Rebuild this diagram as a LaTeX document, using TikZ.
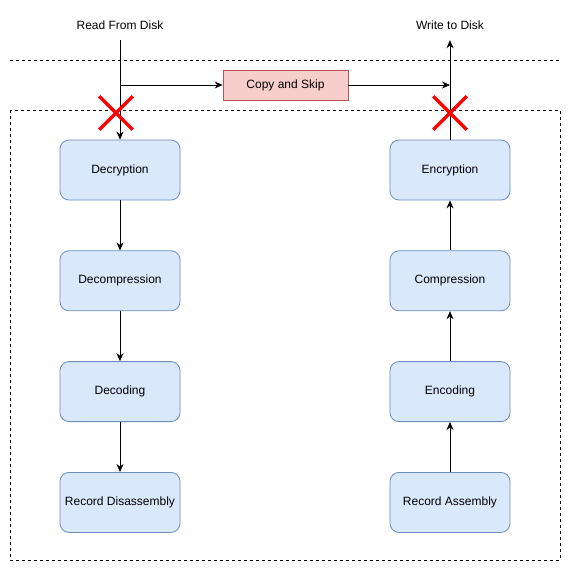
\documentclass[tikz,border=0pt]{standalone}
\usepackage{fontspec}
\setmainfont{Liberation Sans}
\usetikzlibrary{arrows.meta,positioning,shapes.misc}

\definecolor{stageFill}{HTML}{DAE8FC}
\definecolor{stageLine}{HTML}{6C8EBF}
\definecolor{skipFill}{HTML}{F8CECC}
\definecolor{skipLine}{HTML}{B85450}

\begin{document}
\begin{tikzpicture}[
  x=1pt, y=1pt,
  every node/.style={font=\fontsize{12}{14}\selectfont},
  stage/.style={draw=stageLine, fill=stageFill, line width=0.8pt, rounded corners=9pt, minimum width=120pt, minimum height=60pt},
  skipbox/.style={draw=skipLine, fill=skipFill, line width=0.8pt, minimum width=125pt, minimum height=30pt},
  disklabel/.style={inner sep=0pt, minimum height=30pt},
  flow/.style={draw, line width=0.8pt, -{Stealth[length=8pt,width=7pt]}},
  zone/.style={draw, line width=0.8pt, dash pattern=on 3pt off 3pt},
  cancel/.style={cross out, draw=red, line width=3.5pt, minimum size=30pt, inner sep=0pt},
  node distance=50pt
]
  \useasboundingbox (0,0) rectangle (573,571);

  \node[disklabel] (read) at (120,546) {Read From Disk};
  \node[disklabel] (write) at (450,546) {Write to Disk};

  \node[stage] (dec) at (120,401) {Decryption};
  \node[stage, below=of dec] (decomp) {Decompression};
  \node[stage, below=of decomp] (decode) {Decoding};
  \node[stage, below=of decode] (disasm) {Record Disassembly};

  \node[stage] (enc) at (450,401) {Encryption};
  \node[stage, below=of enc] (comp) {Compression};
  \node[stage, below=of comp] (encode) {Encoding};
  \node[stage, below=of encode] (asm) {Record Assembly};

  \node[skipbox] (copy) at (285.5,486) {Copy and Skip};
  \coordinate (split) at (120,486);
  \coordinate (merge) at (450,486);

  \draw[zone] (10,511) -- (560,511);
  \draw[zone] (10,461) rectangle (560,11);

  \draw[flow] (read) -- (dec);
  \draw[flow] (dec) -- (decomp);
  \draw[flow] (decomp) -- (decode);
  \draw[flow] (decode) -- (disasm);
  \draw[flow] (asm) -- (encode);
  \draw[flow] (encode) -- (comp);
  \draw[flow] (comp) -- (enc);
  \draw[flow] (enc) -- (write);
  \draw[flow] (split) -- (copy);
  \draw[flow] (copy) -- (merge);

  \node[cancel] (cutl) at (116,458) {};
  \node[cancel] (cutr) at (450,458) {};
\end{tikzpicture}
\end{document}
